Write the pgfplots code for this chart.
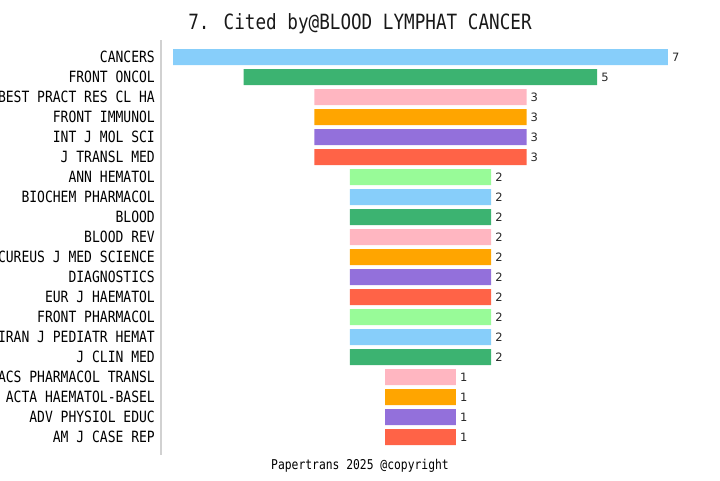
\documentclass[border=0pt]{standalone}
\usepackage{pgfplots}
\pgfplotsset{compat=1.18}
\usepackage{pgfplotstable}
\usepackage{fontspec}
\setmainfont{DejaVu Sans}
\newfontfamily\labelfont[FakeStretch=0.84]{DejaVu Sans Mono}

\definecolor{c1}{RGB}{135,206,250}
\definecolor{c2}{RGB}{60,179,113}
\definecolor{c3}{RGB}{255,182,193}
\definecolor{c4}{RGB}{255,165,0}
\definecolor{c5}{RGB}{147,112,219}
\definecolor{c6}{RGB}{255,99,71}
\definecolor{c7}{RGB}{152,251,152}

% row, citations, colour index
\pgfplotstableread{
y v c
0 7 1
1 5 2
2 3 3
3 3 4
4 3 5
5 3 6
6 2 7
7 2 1
8 2 2
9 2 3
10 2 4
11 2 5
12 2 6
13 2 7
14 2 1
15 2 2
16 1 3
17 1 4
18 1 5
19 1 6
}\cites

\begin{document}
\begin{tikzpicture}
\begin{axis}[
  scale only axis,
  width=539pt, height=415pt,
  xbar stacked,
  bar width=0.8,
  xmin=-0.17, xmax=7.454,
  ymin=-0.85, ymax=19.9,
  y dir=reverse,
  enlargelimits=false,
  clip=false,
  axis x line=none,
  axis y line=left,
  y axis line style={-, draw=black!18, line width=1.3pt},
  major tick length=0pt,
  ytick={0,...,19},
  yticklabels={CANCERS, FRONT ONCOL, BEST PRACT RES CL HA, FRONT IMMUNOL,
    INT J MOL SCI, J TRANSL MED, ANN HEMATOL, BIOCHEM PHARMACOL, BLOOD,
    BLOOD REV, CUREUS J MED SCIENCE, DIAGNOSTICS, EUR J HAEMATOL,
    FRONT PHARMACOL, IRAN J PEDIATR HEMAT, J CLIN MED, ACS PHARMACOL TRANSL,
    ACTA HAEMATOL-BASEL, ADV PHYSIOL EDUC, AM J CASE REP},
  yticklabel style={font=\labelfont\fontsize{15.5}{17}\selectfont,
    anchor=east, inner sep=0pt, xshift=-6pt},
]
  \addplot[draw=none, fill=none] table[x expr={(7-\thisrow{v})/2}, y=y] {\cites};
  \addplot[draw=none, fill=c1] table[x expr={(\thisrow{c}==1)*\thisrow{v}}, y=y] {\cites};
  \addplot[draw=none, fill=c2] table[x expr={(\thisrow{c}==2)*\thisrow{v}}, y=y] {\cites};
  \addplot[draw=none, fill=c3] table[x expr={(\thisrow{c}==3)*\thisrow{v}}, y=y] {\cites};
  \addplot[draw=none, fill=c4] table[x expr={(\thisrow{c}==4)*\thisrow{v}}, y=y] {\cites};
  \addplot[draw=none, fill=c5] table[x expr={(\thisrow{c}==5)*\thisrow{v}}, y=y] {\cites};
  \addplot[draw=none, fill=c6] table[x expr={(\thisrow{c}==6)*\thisrow{v}}, y=y] {\cites};
  \addplot[draw=none, fill=c7] table[x expr={(\thisrow{c}==7)*\thisrow{v}}, y=y] {\cites};
  % value labels: stacked labels sit mid-bar, so an invisible bar of
  % length 7+v puts them at the right end (7+v)/2 of each bar
  \addplot[stack plots=false, draw=none, fill=none, forget plot,
    nodes near coords={\pgfmathprintnumber[assume math mode=true]{\pgfplotspointmeta}},
    point meta=\thisrow{v},
    every node near coord/.style={anchor=west, inner sep=4pt,
      font=\fontsize{11.5}{13}\selectfont, text=black!85}]
    table[x expr={7+\thisrow{v}}, y=y] {\cites};
\end{axis}
\node[font=\labelfont\fontsize{21}{23}\selectfont, text=black!90]
  at ([shift={(199pt,431pt)}]current axis.south west) {7. Cited by@BLOOD LYMPHAT CANCER};
\node[font=\labelfont\fontsize{13.5}{15}\selectfont]
  at ([shift={(199pt,-11pt)}]current axis.south west) {Papertrans 2025 @copyright};
\pgfresetboundingbox
\useasboundingbox ([shift={(-161pt,-25pt)}]current axis.south west) rectangle ++(720pt,480pt);
\end{tikzpicture}
\end{document}
